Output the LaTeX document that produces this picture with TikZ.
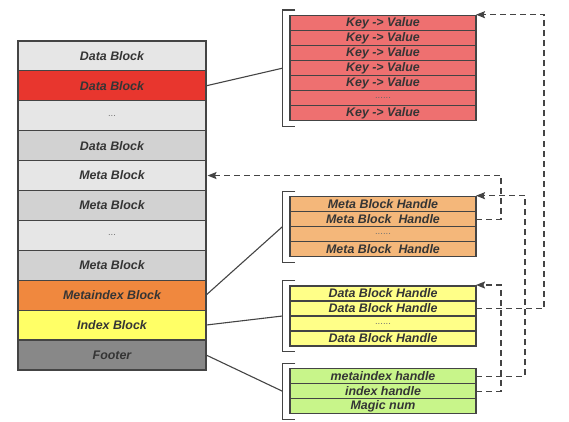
\documentclass[tikz,border=0pt]{standalone}
\usepackage{fontspec}
\setmainfont{Liberation Sans}
\usetikzlibrary{positioning,shapes,fit,arrows,arrows.meta}

\definecolor{edge}{HTML}{444444}
\definecolor{ink}{HTML}{353535}
\definecolor{lgray}{HTML}{E6E6E6}
\definecolor{mgray}{HTML}{D2D2D2}
\definecolor{dgray}{HTML}{888888}
\definecolor{hotred}{HTML}{E8362E}
\definecolor{hotorange}{HTML}{F0883E}
\definecolor{hotyellow}{HTML}{FFFF66}
\definecolor{kvred}{HTML}{EE7070}
\definecolor{hdorange}{HTML}{F4B77A}
\definecolor{hdyellow}{HTML}{FFFF88}
\definecolor{ftgreen}{HTML}{C8F58A}

\begin{document}
\begin{tikzpicture}[x=1pt,y=-1pt,line width=1.2pt,
    blk/.style={draw=edge,minimum width=188pt,minimum height=29.9pt,inner sep=0pt,outer sep=0pt,
      text=ink,font=\bfseries\itshape\fontsize{12.4}{12}\selectfont},
    row/.style={draw=edge,minimum width=186pt,minimum height=15pt,inner sep=0pt,outer sep=0pt,
      text=ink,font=\bfseries\itshape\fontsize{12.4}{12}\selectfont},
    dots/.style={text=black!55,font=\fontsize{9.5}{9}\selectfont},
    brk/.style={inner xsep=7pt,inner ysep=5pt},
    bracket/.style={draw=edge},
    link/.style={draw=edge,line width=1.1pt},
    ref/.style={draw=edge,line width=1.3pt,dash pattern=on 6pt off 4pt,-{Stealth[length=9pt,width=7pt,inset=1.5pt]}}]
                \useasboundingbox (0,0) rectangle (569,422);
                % sstable layout
                \node[blk,fill=lgray,anchor=north west] (l1) at (18,41) {Data Block};
                \node[blk,fill=hotred,below=0pt of l1] (l2) {Data Block};
                \node[blk,fill=lgray,dots,below=0pt of l2] (l3) {...};
                \node[blk,fill=mgray,below=0pt of l3] (l4) {Data Block};
                \node[blk,fill=lgray,below=0pt of l4] (l5) {Meta Block};
                \node[blk,fill=mgray,below=0pt of l5] (l6) {Meta Block};
                \node[blk,fill=lgray,dots,below=0pt of l6] (l7) {...};
                \node[blk,fill=mgray,below=0pt of l7] (l8) {Meta Block};
                \node[blk,fill=hotorange,below=0pt of l8] (l9) {Metaindex Block};
                \node[blk,fill=hotyellow,below=0pt of l9] (l10) {Index Block};
                \node[blk,fill=dgray,below=0pt of l10] (l11) {Footer};
                % data block
                \node[row,fill=kvred,anchor=north west] (r1) at (290,15.7) {Key -> Value};
                \node[row,fill=kvred,below=0pt of r1] (r2) {Key -> Value};
                \node[row,fill=kvred,below=0pt of r2] (r3) {Key -> Value};
                \node[row,fill=kvred,below=0pt of r3] (r4) {Key -> Value};
                \node[row,fill=kvred,below=0pt of r4] (r5) {Key -> Value};
                \node[row,fill=kvred,dots,text=black!60,below=0pt of r5] (r6) {......};
                \node[row,fill=kvred,below=0pt of r6] (r7) {Key -> Value};
                % metaindex block
                \node[row,fill=hdorange,anchor=north west] (m1) at (290,196.7) {Meta Block Handle};
                \node[row,fill=hdorange,below=0pt of m1] (m2) {Meta Block\ \ Handle};
                \node[row,fill=hdorange,dots,below=0pt of m2] (m3) {......};
                \node[row,fill=hdorange,below=0pt of m3] (m4) {Meta Block\ \ Handle};
                % index block
                \node[row,fill=hdyellow,anchor=north west] (i1) at (290,286) {Data Block Handle};
                \node[row,fill=hdyellow,below=0pt of i1] (i2) {Data Block Handle};
                \node[row,fill=hdyellow,dots,below=0pt of i2] (i3) {......};
                \node[row,fill=hdyellow,below=0pt of i3] (i4) {Data Block Handle};
                % footer
                \node[row,fill=ftgreen,anchor=north west] (f1) at (290,368.7) {metaindex handle};
                \node[row,fill=ftgreen,below=0pt of f1] (f2) {index handle};
                \node[row,fill=ftgreen,below=0pt of f2] (f3) {Magic num};
                % brackets
                \node[fit={(r1) (r7)},brk] (rb) {};
                \node[fit={(m1) (m4)},brk] (mb) {};
                \node[fit={(i1) (i4)},brk] (ib) {};
                \node[fit={(f1) (f3)},brk] (fb) {};
                \draw[bracket] ([xshift=13pt]rb.north west) -- (rb.north west) -- (rb.south west) -- ([xshift=13pt]rb.south west);
                \draw[bracket] ([xshift=13pt]mb.north west) -- (mb.north west) -- (mb.south west) -- ([xshift=13pt]mb.south west);
                \draw[bracket] ([xshift=13pt]ib.north west) -- (ib.north west) -- (ib.south west) -- ([xshift=13pt]ib.south west);
                \draw[bracket] ([xshift=13pt]fb.north west) -- (fb.north west) -- (fb.south west) -- ([xshift=13pt]fb.south west);
                \draw[link] (l2.east) -- (rb.west);
                \draw[link] (l9.east) -- (mb.west);
                \draw[link] (l10.east) -- (ib.west);
                \draw[link] (l11.east) -- (fb.west);
                % handles
                \draw[ref,shorten >=1.5pt] (m2.east) -- ++(25,0) |- (l5.east);
                \draw[ref] (f1.east) -- ++(49,0) |- ([yshift=1]m1.north east);
                \draw[ref] (f2.east) -- ++(25,0) |- ([yshift=1]i1.north east);
                \draw[ref] (i2.east) -- ++(68,0) |- ([yshift=1]r1.north east);
            \end{tikzpicture}
\end{document}
